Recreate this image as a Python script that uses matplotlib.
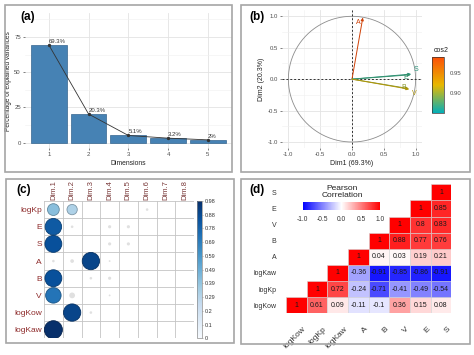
import numpy as np
import matplotlib
matplotlib.use("Agg")
import matplotlib.pyplot as plt
from matplotlib.patches import Rectangle, Ellipse
from matplotlib.colors import LinearSegmentedColormap, Normalize
from matplotlib.cm import ScalarMappable

plt.rcParams["font.family"] = ["Liberation Sans", "DejaVu Sans"]

W, H = 474, 355

# (a) scree plot
dims = [1, 2, 3, 4, 5]
explained = [69.3, 20.3, 5.1, 3.2, 2.0]
explained_lbl = ["69.3%", "20.3%", "5.1%", "3.2%", "2%"]

# (b) variables on Dim1 / Dim2
var_names = ["A", "S", "E", "B", "V"]
var_dim1 = [0.17, 0.93, 0.92, 0.89, 0.90]
var_dim2 = [0.98, 0.08, 0.07, -0.15, -0.16]
var_cos2 = [0.99, 0.865, 0.87, 0.90, 0.915]

# (c) cos2 of variables per dimension
c_rows = ["logKp", "E", "S", "A", "B", "V", "logKow", "logKaw"]
c_cols = ["Dim.1", "Dim.2", "Dim.3", "Dim.4", "Dim.5", "Dim.6", "Dim.7", "Dim.8"]
c_vals = [
    [0.42, 0.32, 0.00, 0.00, 0.00, 0.02, 0.00, 0.00],
    [0.82, 0.02, 0.00, 0.03, 0.03, 0.00, 0.00, 0.00],
    [0.86, 0.00, 0.00, 0.03, 0.03, 0.00, 0.00, 0.00],
    [0.02, 0.04, 0.90, 0.01, 0.00, 0.00, 0.00, 0.00],
    [0.86, 0.00, 0.02, 0.03, 0.00, 0.00, 0.00, 0.00],
    [0.72, 0.10, 0.00, 0.01, 0.00, 0.00, 0.00, 0.00],
    [0.00, 0.90, 0.02, 0.00, 0.00, 0.00, 0.00, 0.00],
    [0.98, 0.00, 0.00, 0.00, 0.00, 0.00, 0.00, 0.00],
]
c_max = 0.98

# (d) Pearson correlation (rows bottom -> top, upper triangle only)
d_labels = ["logKow", "logKp", "logKaw", "A", "B", "V", "E", "S"]
nan = np.nan
d_vals = [
    [1, 0.61, 0.09, -0.11, -0.1, 0.36, 0.15, 0.08],
    [nan, 1, 0.72, -0.24, -0.71, -0.41, -0.49, -0.54],
    [nan, nan, 1, -0.36, -0.91, -0.85, -0.86, -0.91],
    [nan, nan, nan, 1, 0.04, 0.03, 0.19, 0.21],
    [nan, nan, nan, nan, 1, 0.88, 0.77, 0.76],
    [nan, nan, nan, nan, nan, 1, 0.8, 0.83],
    [nan, nan, nan, nan, nan, nan, 1, 0.85],
    [nan, nan, nan, nan, nan, nan, nan, 1],
]


def box(x0, y0, x1, y1):
    # pixel rect with top-left origin -> figure fraction
    return [x0 / W, 1 - y1 / H, (x1 - x0) / W, (y1 - y0) / H]


def minimal(ax):
    for s in ax.spines.values():
        s.set_visible(False)
    ax.set_axisbelow(True)
    ax.grid(which="major", color="#E3E3E3", lw=0.6)
    ax.grid(which="minor", color="#F0F0F0", lw=0.4)
    ax.tick_params(length=1.5, width=0.5, colors="#4D4D4D", labelsize=4.3, pad=1.5)
    ax.tick_params(which="minor", length=0)


fig = plt.figure(figsize=(W / 100, H / 100), dpi=100)

for x0, y0, x1, y1 in [(5, 5, 232, 172), (241, 5, 470, 172),
                       (6, 179, 234, 343), (241, 179, 470, 344)]:
    fig.patches.append(Rectangle((x0 / W, 1 - y1 / H), (x1 - x0) / W, (y1 - y0) / H,
                                 transform=fig.transFigure, fill=False,
                                 ec="#A6A6A6", lw=1.2))

# ---------------- (a) ----------------
ax = fig.add_axes(box(25, 13, 231.7, 148.3))
ax.bar(dims, explained, width=0.9, color="#4682B4", edgecolor="#35658F", lw=0.5, zorder=2)
ax.plot(dims, explained, color="#333333", lw=0.6, marker="o", ms=1.4, zorder=3)
for d, v, s in zip(dims, explained, explained_lbl):
    ax.text(d, v + 0.8, s, fontsize=4.3, ha="left", va="bottom", color="#333333", zorder=4)
ax.set_xlim(0.4, 5.6)
ax.set_ylim(-4, 92)
ax.set_xticks(dims)
ax.set_yticks([0, 25, 50, 75])
ax.set_yticks([12.5, 37.5, 62.5, 87.5], minor=True)
minimal(ax)
ax.set_xlabel("Dimensions", fontsize=4.9, labelpad=1.5, color="#222222")
ax.set_ylabel("Percentage of explained variances", fontsize=4.7, labelpad=1.5, color="#222222")
fig.text(20.7 / W, 1 - 17.2 / H, "(a)", fontsize=8.5, fontweight="bold", ha="left", va="center")

# ---------------- (b) ----------------
cmap_b = LinearSegmentedColormap.from_list("cos2", ["#00AFBB", "#E7B800", "#FC4E07"])
norm_b = Normalize(0.85, 0.99)
ax = fig.add_axes(box(282, 10, 422, 148.3))
ax.set_xlim(-1.1, 1.1)
ax.set_ylim(-1.1, 1.1)
ticks = [-1.0, -0.5, 0.0, 0.5, 1.0]
ax.set_xticks(ticks)
ax.set_yticks(ticks)
ax.set_xticks([-0.75, -0.25, 0.25, 0.75], minor=True)
ax.set_yticks([-0.75, -0.25, 0.25, 0.75], minor=True)
ax.set_xticklabels([f"{t:.1f}" for t in ticks])
ax.set_yticklabels([f"{t:.1f}" for t in ticks])
minimal(ax)
th = np.linspace(0, 2 * np.pi, 300)
ax.plot(np.cos(th), np.sin(th), color="#8C8C8C", lw=0.6)
ax.axhline(0, color="#333333", lw=0.7, ls=(0, (2, 2)))
ax.axvline(0, color="#333333", lw=0.7, ls=(0, (2, 2)))
lbl_off = {"A": (-0.07, -0.08), "S": (0.07, 0.07), "E": (-0.08, -0.05),
           "B": (-0.07, 0.01), "V": (0.08, -0.07)}
for n, x, y, c in zip(var_names, var_dim1, var_dim2, var_cos2):
    col = np.array(cmap_b(norm_b(c)))
    col[:3] *= 0.82
    ax.annotate("", xy=(x, y), xytext=(0, 0),
                arrowprops=dict(arrowstyle="-|>", color=col, lw=0.7,
                                mutation_scale=4, shrinkA=0, shrinkB=0))
    dx, dy = lbl_off[n]
    ax.text(x + dx, y + dy, n, color=col, fontsize=5, ha="center", va="center")
ax.set_xlabel("Dim1 (69.3%)", fontsize=5, labelpad=1.5, color="#222222")
ax.set_ylabel("Dim2 (20.3%)", fontsize=5, labelpad=1.5, color="#222222")

cax = fig.add_axes(box(432, 56.7, 444.3, 113.3))
cb = fig.colorbar(ScalarMappable(norm_b, cmap_b), cax=cax, ticks=[0.90, 0.95])
cb.ax.set_yticklabels(["0.90", "0.95"])
cb.ax.tick_params(labelsize=4.3, length=2, color="white", width=0.5, pad=2,
                  labelcolor="#4D4D4D")
cb.outline.set_edgecolor("#333333")
cb.outline.set_linewidth(0.5)
fig.text(433.5 / W, 1 - 50 / H, "cos2", fontsize=5, ha="left", va="center", color="#222222")
fig.text(249.7 / W, 1 - 17.2 / H, "(b)", fontsize=8.5, fontweight="bold", ha="left", va="center")

# ---------------- (c) ----------------
cmap_c = plt.get_cmap("Blues")
norm_c = Normalize(0, c_max)
ax = fig.add_axes(box(44, 201, 194, 338.3))
ax.set_xlim(0, 8)
ax.set_ylim(8, 0)
cw, ch = 150 / 8, 137.3 / 8
for i, row in enumerate(c_vals):
    for j, v in enumerate(row):
        if v <= 0:
            continue
        dpx = 1.05 * ch * np.sqrt(v / c_max)
        fc = np.array(cmap_c(norm_c(v)))
        if v < 0.15:
            # faint specks: greyish fill, no outline
            fc[:3] = 0.88
            ec = "none"
        else:
            ec = fc.copy()
            ec[:3] = ec[:3] * 0.72
        ax.add_patch(Ellipse((j + 0.5, i + 0.5), dpx / cw, dpx / ch, fc=fc, ec=ec, lw=0.6, zorder=3))
for k in range(9):
    ax.axhline(k, color="#C4C4C4", lw=0.6, zorder=1)
    ax.axvline(k, color="#C4C4C4", lw=0.6, zorder=1)
for s in ax.spines.values():
    s.set_visible(False)
ax.set_yticks(np.arange(8) + 0.5)
ax.set_yticklabels(c_rows)
ax.set_xticks(np.arange(8) + 0.5)
ax.set_xticklabels(c_cols, rotation=90)
ax.xaxis.tick_top()
ax.tick_params(axis="y", length=0, labelsize=6, labelcolor="#8E2B2B", pad=1.5)
ax.tick_params(axis="x", length=0, labelsize=5.5, labelcolor="#7A3A3A", pad=1)

cax = fig.add_axes(box(197.3, 201, 202, 338.3))
cticks = np.linspace(0, c_max, 11)
cb = fig.colorbar(ScalarMappable(norm_c, cmap_c), cax=cax, ticks=cticks)
cb.ax.set_yticklabels([f"{round(t, 2):g}" for t in cticks])
cb.ax.tick_params(labelsize=4, length=1, width=0.4, pad=1, labelcolor="#333333", color="#777777")
cb.outline.set_edgecolor("#8C8C8C")
cb.outline.set_linewidth(0.5)
fig.text(16.7 / W, 1 - 190.3 / H, "(c)", fontsize=8.5, fontweight="bold", ha="left", va="center")

# ---------------- (d) ----------------
cmap_d = LinearSegmentedColormap.from_list("pc", ["blue", "white", "red"])
norm_d = Normalize(-1, 1)
ax = fig.add_axes(box(286, 184.3, 451.3, 313.3))
ax.set_xlim(0, 8)
ax.set_ylim(0, 8)
for i, row in enumerate(d_vals):
    for j, v in enumerate(row):
        if np.isnan(v):
            continue
        ax.add_patch(Rectangle((j, i), 1, 1, fc=cmap_d(norm_d(v)), ec="#D4D4D4", lw=0.4))
        ax.text(j + 0.5, i + 0.5, f"{v:g}", fontsize=5, ha="center", va="center", color="#1A1A1A")
for s in ax.spines.values():
    s.set_visible(False)
ax.set_xticks([])
ax.set_yticks(np.arange(8) + 0.5)
ax.set_yticklabels(d_labels)
ax.tick_params(axis="y", length=0, labelsize=5, labelcolor="#333333", pad=7)
for j, lab in enumerate(d_labels):
    ax.text(j + 0.8, -0.75, lab, rotation=45, rotation_mode="anchor", ha="right", va="top",
            fontsize=6, color="#333333")

cax = fig.add_axes(box(302.7, 202.3, 380.3, 210))
cb = fig.colorbar(ScalarMappable(norm_d, cmap_d), cax=cax, orientation="horizontal",
                  ticks=[-1, -0.5, 0, 0.5, 1])
cb.ax.set_xticklabels(["-1.0", "-0.5", "0.0", "0.5", "1.0"])
cb.ax.tick_params(labelsize=4.8, length=2, color="white", width=0.5, pad=2, labelcolor="#333333")
cb.outline.set_visible(False)
fig.text(342 / W, 1 - 191.7 / H, "Pearson\nCorrelation", fontsize=6, ha="center", va="center",
         linespacing=0.95, color="#222222")
fig.text(249.7 / W, 1 - 190.3 / H, "(d)", fontsize=8.5, fontweight="bold", ha="left", va="center")

fig.savefig("out.png", dpi=100)
